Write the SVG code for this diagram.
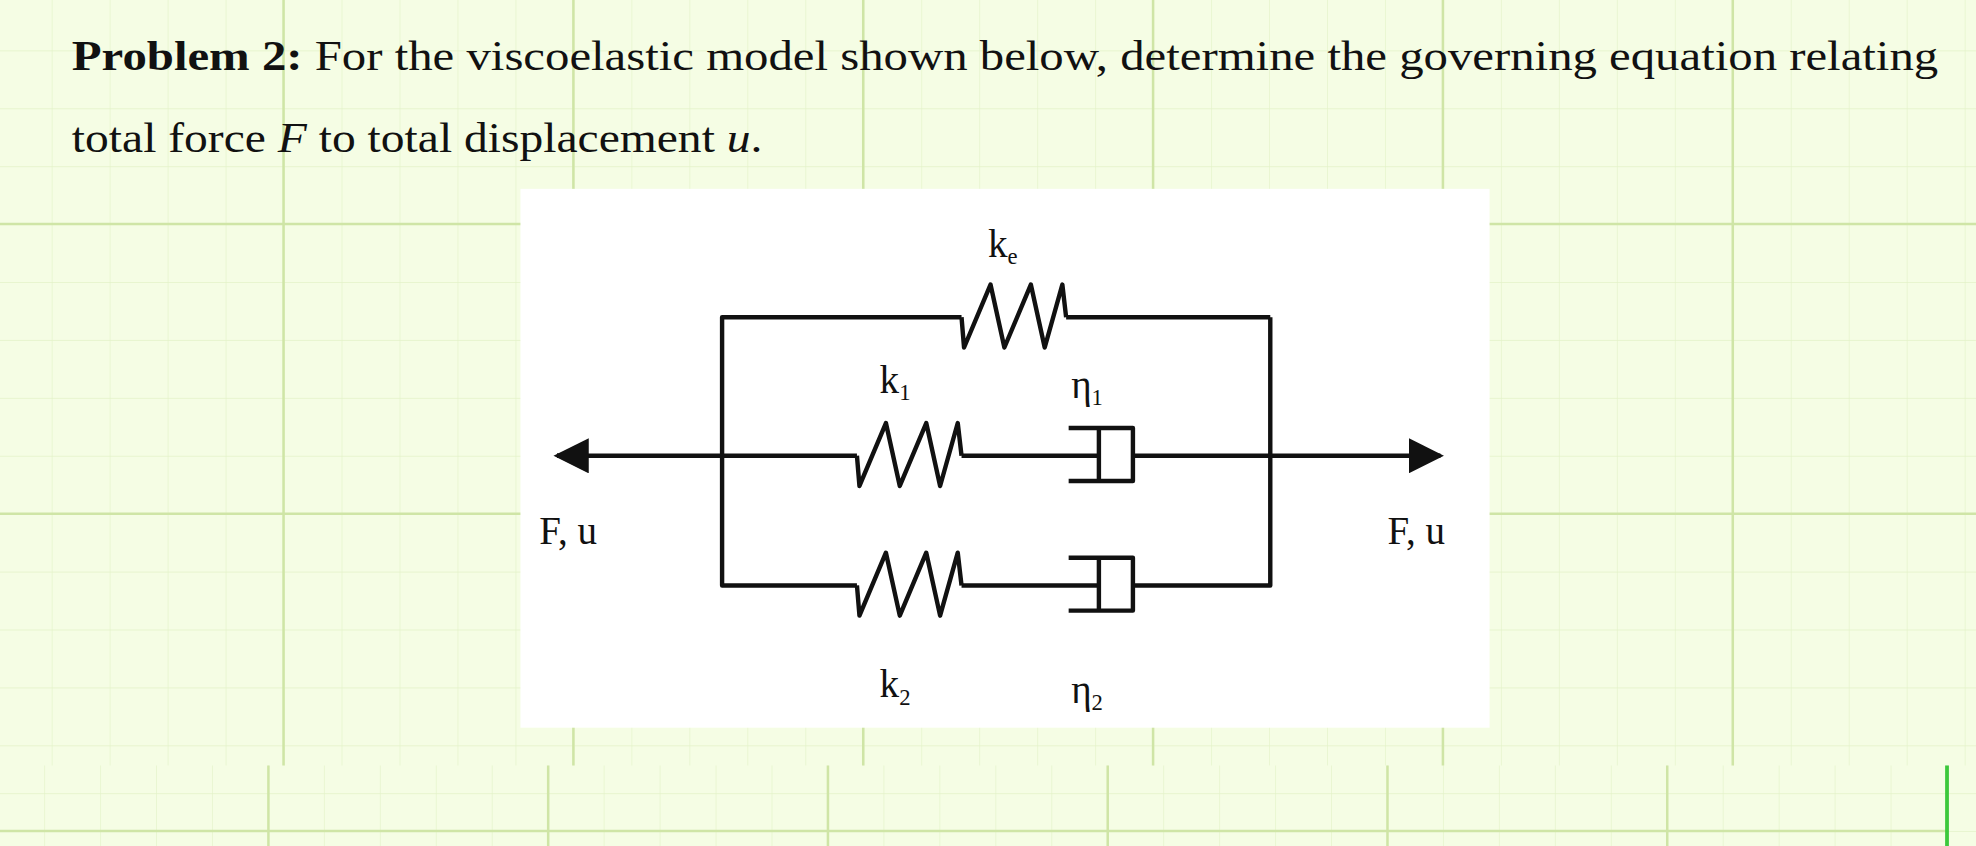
<svg xmlns="http://www.w3.org/2000/svg" width="1976" height="846" viewBox="0 0 1976 846">
<defs>
<style>
.minor{stroke:#e3f2c8;stroke-width:1}
.major{stroke:#cfe5a6;stroke-width:2}
.w{fill:none;stroke:#111;stroke-width:3.5;stroke-linejoin:round}
.t{font-family:"Liberation Serif",serif;fill:#111}
</style>
<pattern id="gridA" width="46" height="46" patternUnits="userSpaceOnUse" x="41" y="40">
<path d="M0 0V46M0 0H46" class="minor" fill="none"/>
</pattern>
<pattern id="gridB" width="44.4" height="30" patternUnits="userSpaceOnUse" x="35" y="630">
<path d="M0 0V30M0 0H44.4" class="minor" fill="none"/>
</pattern>
<marker id="ah" viewBox="0 0 10 10" refX="9" refY="5" markerWidth="8" markerHeight="8" orient="auto-start-reverse" markerUnits="strokeWidth">
<path d="M0 0L10 5L0 10z" fill="#111"/>
</marker>
</defs>
<g transform="scale(1.2602 1.259)">
<rect width="1568" height="672" fill="#f5fde4"/>
<rect width="1568" height="608" fill="url(#gridA)"/>
<rect y="608" width="1568" height="64" fill="url(#gridB)"/>
<g class="major">
<path d="M225 0V608M455 0V608M685 0V608M915 0V608M1145 0V608M1375 0V608M0 178H1568M0 408H1568"/>
<path d="M213 608V672M435 608V672M657 608V672M879 608V672M1101 608V672M1323 608V672M0 660H1545"/>
</g>
<path d="M1545 608V672" stroke="#3cc83c" stroke-width="3"/>
<text class="t" x="57" y="56" font-size="34" textLength="1481" lengthAdjust="spacingAndGlyphs"><tspan font-weight="bold">Problem 2:</tspan> For the viscoelastic model shown below, determine the governing equation relating</text>
<text class="t" x="57" y="121" font-size="34" textLength="548" lengthAdjust="spacingAndGlyphs">total force <tspan font-style="italic">F</tspan> to total displacement <tspan font-style="italic">u</tspan>.</text>
<rect x="413" y="150" width="769" height="428" fill="#fff"/>
<g id="connectors">
<path class="w" d="M763 252H573V465H680M1008 252V465H899M846 252H1008"/>
<path class="w" d="M442 362H680M763 362H872M899 362H1143" marker-end="url(#ah)"/>
<path class="w" d="M442 362H443" marker-start="url(#ah)"/>
<path class="w" d="M763 465H872"/>
</g>
<g id="spring-ke"><path class="w" d="M763 252L765 276L786 226L797 276L818 226L829 276L843 226L846 252"/></g>
<g id="spring-k1"><path class="w" d="M680 362L682 386L703 336L714 386L735 336L746 386L760 336L763 362"/></g>
<g id="spring-k2"><path class="w" d="M680 465L682 489L703 439L714 489L735 439L746 489L760 439L763 465"/></g>
<g id="dashpot-1"><path class="w" d="M848 340H899V382H848M872 340V382"/></g>
<g id="dashpot-2"><path class="w" d="M848 443H899V485H848M872 443V485"/></g>
<g id="labels" class="t" font-size="31">
<text x="784" y="204">k<tspan font-size="18" dy="6">e</tspan></text>
<text x="698" y="312">k<tspan font-size="18" dy="6">1</tspan></text>
<text x="850" y="316">η<tspan font-size="18" dy="6">1</tspan></text>
<text x="698" y="554">k<tspan font-size="18" dy="6">2</tspan></text>
<text x="850" y="558">η<tspan font-size="18" dy="6">2</tspan></text>
<text x="428" y="432">F, u</text>
<text x="1101" y="432">F, u</text>
</g>
</g>
</svg>
